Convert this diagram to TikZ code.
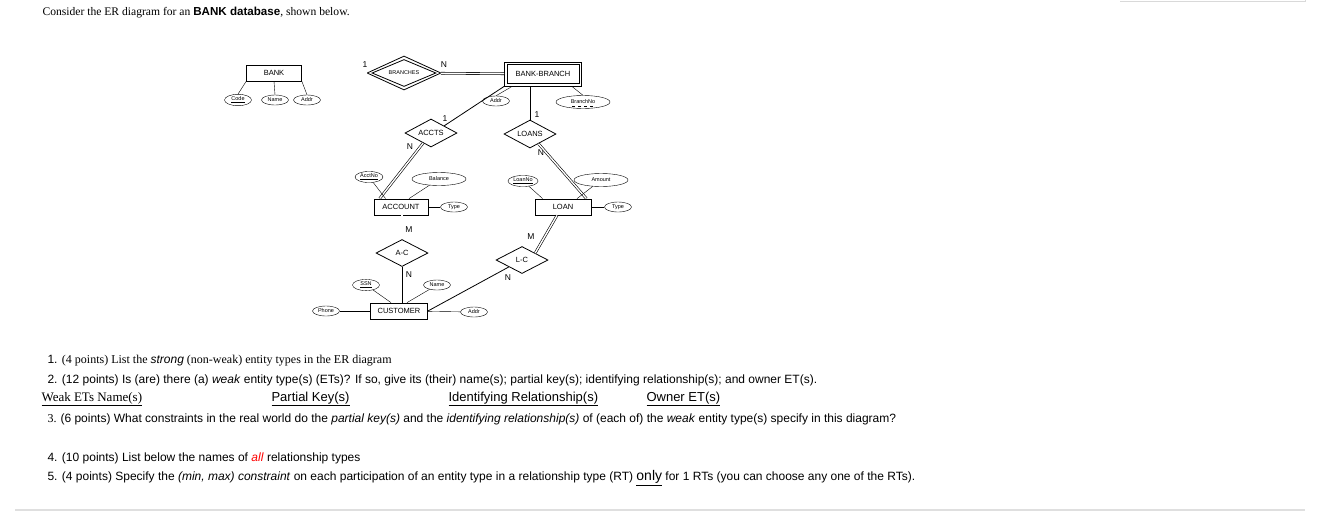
\documentclass[tikz,border=0pt]{standalone}
\usepackage{fontspec}
\setmainfont{Liberation Serif}
\setsansfont{Liberation Sans}
\usetikzlibrary{shapes.geometric}
\begin{document}
\begin{tikzpicture}[x=1pt,y=-1pt,
  ent/.style={draw,thick,font=\sffamily\fontsize{7.5}{8}\selectfont,minimum height=16,inner sep=1pt},
  rel/.style={draw,thick,diamond,aspect=1.9,font=\sffamily\fontsize{7.5}{8}\selectfont,inner sep=0.5pt},
  att/.style={draw,ellipse,font=\sffamily\fontsize{5.5}{6}\selectfont,minimum height=10,minimum width=27,inner sep=1pt},
  dbl/.style={double,double distance=1.4pt,line width=0.6pt},
  sgl/.style={thick},
  card/.style={font=\sffamily\fontsize{8.5}{9}\selectfont},
  q/.style={anchor=west,font=\fontsize{12}{14}\selectfont}]
\useasboundingbox (0,0) rectangle (1329,512);
\fill[white] (0,0) rectangle (1329,512);
\draw[gray!30] (1120,1) -- (1305,1) -- (1305,0);
\draw[gray!25,line width=1.5pt] (15,510) -- (1305,510);
\node[anchor=west,font=\fontsize{11.6}{13}\selectfont] (hd) at (39,13) {Consider the ER diagram for an \textsf{\textbf{BANK database}}, shown below.};
% entities
\node[ent,minimum width=55] (bank) at (274,73) {BANK};
\node[rel,minimum width=74,minimum height=34] (branches) at (404,73) {};
\node[rel,minimum width=64,minimum height=27] (branchesin) at (404,73) {\fontsize{5.5}{6}\selectfont BRANCHES};
\node[ent,minimum width=77,minimum height=24] (bb) at (543,74) {};
\node[ent,minimum width=72,minimum height=19] (bbin) at (543,74) {BANK-BRANCH};
\node[att] (code) at (238,100) {\underline{Code}};
\node[att] (name1) at (275,100) {Name};
\node[att] (addr1) at (307,100) {Addr};
\node[att] (addr2) at (496,101) {Addr};
\node[att,minimum width=54,minimum height=13] (bno) at (583,102) {BranchNo};
\draw[dashed] ([xshift=-11pt,yshift=-3.8pt]bno.center) -- ([xshift=11pt,yshift=-3.8pt]bno.center);
\draw[dbl] (bank) -- (branches);
\draw[dbl] (branches) -- (bb);
\draw (code.north) -- (bank.south west);
\draw (name1.north) -- (bank.south);
\draw (addr1.north) -- (bank.south east);
\draw (addr2.north) -- ([xshift=8pt]bb.south west);
\draw (bno.north) -- ([xshift=-10pt]bb.south east);
\node[card] (c1) at (365,65) {1};
\node[card] (c2) at (444,65) {N};
\node[rel,minimum width=52,minimum height=28] (accts) at (431,133) {ACCTS};
\node[rel,minimum width=52,minimum height=28] (loans) at (530,134) {LOANS};
\draw[sgl] (bb.south west) -- (accts.north east);
\draw[sgl] (bb.south west -| 530,0) -- (loans.north);
\node[card] at (445,119) {1};
\node[card] at (410,147) {N};
\node[card] at (537,115) {1};
\node[card] at (541,153) {N};
\node[att] (acctno) at (369,177) {\underline{AcctNo}};
\node[att,minimum width=54,minimum height=13] (bal) at (439,179) {Balance};
\node[att] (loanno) at (523,181) {\underline{LoanNo}};
\node[att,minimum width=54,minimum height=13] (amt) at (601,180) {Amount};
\node[ent,minimum width=54] (acc) at (401,207) {ACCOUNT};
\node[att] (type1) at (454,207) {Type};
\node[ent,minimum width=56] (loan) at (563,207) {LOAN};
\node[att] (type2) at (618,207) {Type};
\draw[dbl] (accts) -- ([xshift=6pt]acc.north west);
\draw[dbl] (loans) -- ([xshift=-5pt]loan.north east);
\draw (acctno) -- ([xshift=12pt]acc.north west);
\draw (bal) -- ([xshift=8pt]acc.north);
\draw (acc) -- (type1);
\draw (loanno) -- ([xshift=8pt]loan.north west);
\draw (amt) -- ([xshift=14pt]loan.north);
\draw (loan) -- (type2);
\node[rel,minimum width=52,minimum height=27] (ac) at (402,253) {A-C};
\node[rel,minimum width=52,minimum height=27] (lc) at (522,260) {L-C};
\draw[dbl] (acc.south -| 402,0) -- (ac.north);
\draw[dbl] ([xshift=-6pt]loan.south) -- (lc.north east);
\node[card] at (409,230) {M};
\node[card] at (409,275) {N};
\node[card] at (531,237) {M};
\node[card] at (508,278) {N};
\node[ent,minimum width=57] (cust) at (399,311) {CUSTOMER};
\node[att] (ssn) at (366,285) {\underline{SSN}};
\node[att] (name2) at (437,285) {Name};
\node[att] (phone) at (326,311) {Phone};
\node[att] (addr3) at (474,312) {Addr};
\draw[sgl] (ac.south) -- (cust.north -| 402,0);
\draw[sgl] (lc.south west) -- (cust.east);
\draw (ssn) -- ([xshift=-8pt]cust.north);
\draw (name2) -- ([xshift=8pt]cust.north);
\draw (phone) -- (cust);
\draw (addr3) -- (cust);
% questions
\node[q] (q1) at (44,361) {\sffamily 1. \rmfamily(4 points) List the \textsf{\textit{strong}} (non-weak) entity types in the ER diagram};
\node[q] (q2) at (44,380) {\sffamily 2. (12 points) Is (are) there (a) \textit{weak} entity type(s) (ETs)? If so, give its (their) name(s); partial key(s); identifying relationship(s); and owner ET(s).};
\node[q,font=\fontsize{13}{14}\selectfont] (w1) at (38,399) {\underline{Weak ETs Name(s)}};
\node[q,font=\sffamily\fontsize{13}{14}\selectfont] (w2) at (268,399) {\underline{Partial Key(s)}};
\node[q,font=\sffamily\fontsize{13}{14}\selectfont] (w3) at (445,399) {\underline{Identifying Relationship(s)}};
\node[q,font=\sffamily\fontsize{13}{14}\selectfont] (w4) at (643,399) {\underline{Owner ET(s)}};
\node[q] (q3) at (44,419) {\rmfamily 3. \sffamily(6 points) What constraints in the real world do the \textit{partial key(s)} and the \textit{identifying relationship(s)} of (each of) the \textit{weak} entity type(s) specify in this diagram?};
\node[q] (q4) at (44,458) {\sffamily 4. (10 points) List below the names of \textcolor{red}{\textit{all}} relationship types};
\node[q] (q5) at (44,478) {\sffamily 5. (4 points) Specify the \textit{(min, max) constraint} on each participation of an entity type in a relationship type (RT) {\fontsize{14}{14}\selectfont\underline{only}} for 1 RTs (you can choose any one of the RTs).};
\end{tikzpicture}
\end{document}
